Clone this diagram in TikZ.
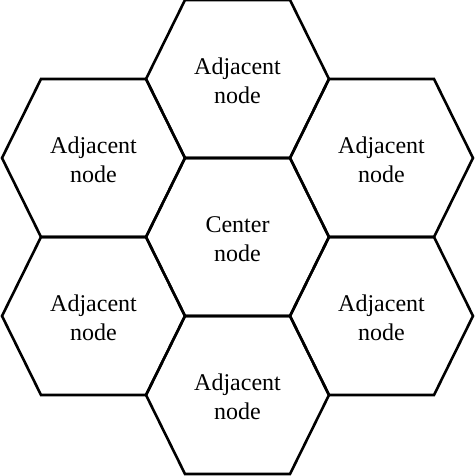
\documentclass[tikz,border=0pt]{standalone}
\usepackage{fontspec}
\setmainfont{Liberation Serif}
\begin{document}
\begin{tikzpicture}[x=1pt,y=-1pt,
  hexline/.style={line width=2.6pt, line join=miter},
  celltext/.style={align=center, font=\fontsize{24}{29}\selectfont, inner sep=0pt},
  pics/hexcell/.style={code={\draw[hexline] (-91.5,0) -- (-52.5,-79) -- (52.5,-79) -- (91.5,0) -- (52.5,79) -- (-52.5,79) -- cycle;}}]
\useasboundingbox (0,0) rectangle (474,476);
% hexagons
\pic at (237.5,79) {hexcell};
\pic at (93.5,158) {hexcell};
\pic at (381.5,158) {hexcell};
\pic at (237.5,237) {hexcell};
\pic at (93.5,316) {hexcell};
\pic at (381.5,316) {hexcell};
\pic at (237.5,395) {hexcell};
% texts
\node[celltext] (top) at (237.5,81) {Adjacent\\node};
\node[celltext] (ul) at (93.5,160) {Adjacent\\node};
\node[celltext] (ur) at (381.5,160) {Adjacent\\node};
\node[celltext] (center) at (237.5,239) {Center\\node};
\node[celltext] (ll) at (93.5,318) {Adjacent\\node};
\node[celltext] (lr) at (381.5,318) {Adjacent\\node};
\node[celltext] (bottom) at (237.5,397) {Adjacent\\node};
\end{tikzpicture}
\end{document}
